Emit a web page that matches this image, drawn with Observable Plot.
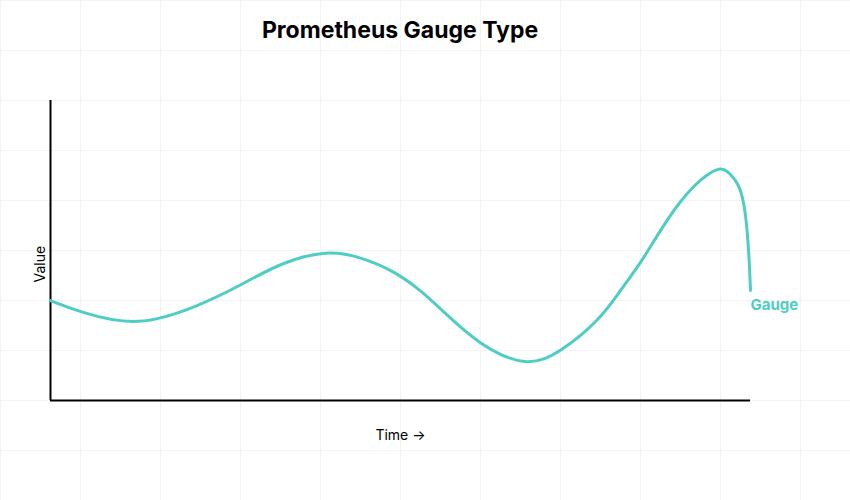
<!DOCTYPE html>
<html>
<head>
<meta charset="utf-8">
<script src="https://cdn.jsdelivr.net/npm/d3@7"></script>
<script src="https://cdn.jsdelivr.net/npm/@observablehq/plot@0.6"></script>
<style>
  html, body { margin: 0; padding: 0; }
  body {
    width: 850px; height: 500px; position: relative; overflow: hidden;
    background-color: #fff;
    background-image:
      linear-gradient(to right, #f3f3f3 1px, transparent 1px),
      linear-gradient(to bottom, #f3f3f3 1px, transparent 1px);
    background-size: 80px 50px;
    font-family: Inter, "Noto Sans", sans-serif;
  }
  #title {
    position: absolute; left: 50px; width: 700px; top: 16px;
    text-align: center; font-size: 23px; font-weight: 700; color: #000;
  }
  #chart { position: absolute; left: 0; top: 0; }
</style>
</head>
<body>
<div id="title">Prometheus Gauge Type</div>
<div id="chart"></div>
<script>
const seriesName = "Gauge";
const time = [0, 4.3, 12.4, 21.4, 27.1, 32.9, 39.6, 44.3, 49, 52.9, 55.7, 61.1, 68.1, 72.9, 78.6, 81.4, 84.3, 87.1, 90, 92.9, 95.7, 97.1, 98.3, 99, 99.4, 99.76, 100];
const value = [33.3, 29.4, 24.3, 31.7, 38.3, 46, 50.2, 47.8, 43.3, 36.7, 30.6, 18.7, 10.8, 16.1, 27.2, 36.7, 45.7, 56.7, 66.7, 73.9, 78.3, 75.6, 72.2, 66.7, 60, 50, 36.7];
const xLabel = "Time →";
const yLabel = "Value";
const color = "#4ecdc4";

const data = time.map((t, i) => ({time: t, value: value[i]}));
const last = data[data.length - 1];

const chart = Plot.plot({
  width: 850,
  height: 500,
  marginLeft: 50,
  marginRight: 100,
  marginTop: 100,
  marginBottom: 100,
  style: {background: "transparent", fontFamily: "Inter, 'Noto Sans', sans-serif"},
  x: {domain: [0, 100], axis: null},
  y: {domain: [0, 100], axis: null},
  marks: [
    Plot.ruleX([0], {stroke: "#000", strokeWidth: 2}),
    Plot.ruleY([0], {stroke: "#000", strokeWidth: 2}),
    Plot.line(data, {x: "time", y: "value", stroke: color, strokeWidth: 3, curve: "basis"}),
    Plot.text([last], {x: "time", y: "value", text: () => seriesName, textAnchor: "start", dy: 15, fill: color, fontWeight: 700, fontSize: 15}),
    Plot.text([xLabel], {frameAnchor: "bottom", dy: 39, fontSize: 14, fill: "#000"}),
    Plot.text([yLabel], {frameAnchor: "left", rotate: -90, dx: -10, dy: 32, fontSize: 14, fill: "#000"})
  ]
});
document.getElementById("chart").appendChild(chart);
</script>
</body>
</html>
